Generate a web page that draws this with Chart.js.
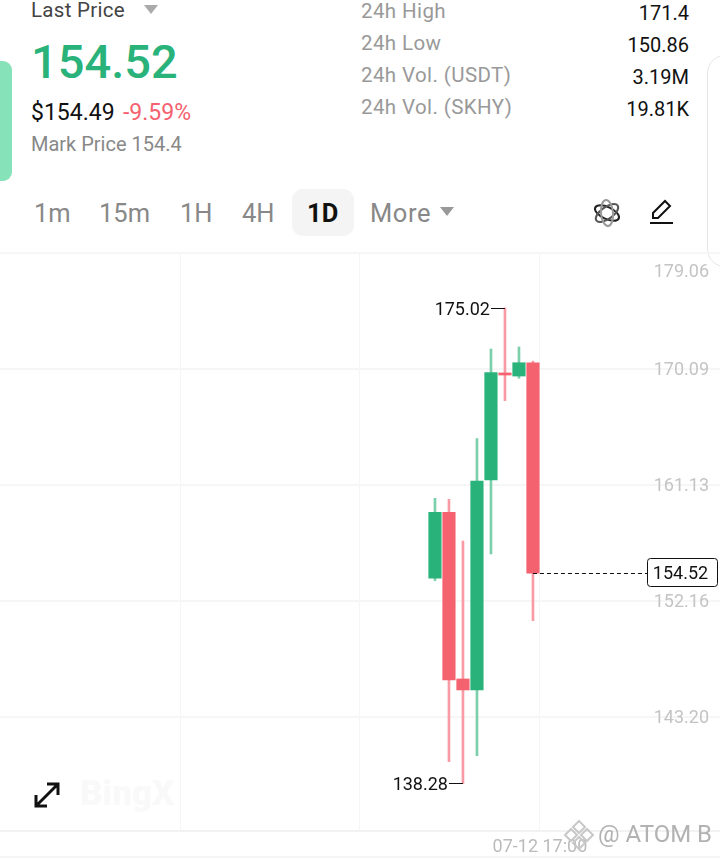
<!DOCTYPE html>
<html>
<head>
<meta charset="utf-8">
<title>SKHY 1D</title>
<script src="https://cdn.jsdelivr.net/npm/chart.js@4"></script>
<style>
  html, body { margin: 0; padding: 0; background: #fff; }
  body { position: relative; width: 720px; height: 859px; overflow: hidden; font-family: Roboto, sans-serif; }
  .t { position: absolute; white-space: nowrap; line-height: 1; }
  .stat { color: #999; font-size: 20.5px; left: 361px; letter-spacing: .4px; }
  .val { color: #111; font-size: 20px; right: 31px; }
  .tab { color: #888; font-size: 25.5px; top: 201px; }
  #chartVelas { position: absolute; left: 0; top: 243px; }
</style>
</head>
<body>

<div style="position:absolute;left:-12px;top:61px;width:24px;height:120px;border-radius:9px;background:#86e2b8"></div>
<div style="position:absolute;left:707px;top:55px;width:40px;height:212px;border:1px solid #e6e6e6;border-radius:18px;box-sizing:border-box"></div>

<div class="t" style="left:31px;top:0;font-size:20.5px;color:#444;letter-spacing:.3px">Last Price</div>
<svg style="position:absolute;left:144px;top:5px" width="14" height="10"><path d="M0 0H14L7 9Z" fill="#aaa"/></svg>
<div class="t" style="left:31px;top:38px;font-size:47px;font-weight:500;color:#2ab27b">154.52</div>
<div class="t" style="left:31px;top:101px;font-size:23px;color:#111">$154.49</div>
<div class="t" style="left:123px;top:101px;font-size:23px;color:#f4616f">-9.59%</div>
<div class="t" style="left:31px;top:134px;font-size:20px;color:#888">Mark Price 154.4</div>

<div class="t stat" style="top:1px">24h High</div>
<div class="t stat" style="top:33px">24h Low</div>
<div class="t stat" style="top:65px">24h Vol. (USDT)</div>
<div class="t stat" style="top:97px">24h Vol. (SKHY)</div>
<div class="t val" style="top:3px">171.4</div>
<div class="t val" style="top:35px">150.86</div>
<div class="t val" style="top:67px">3.19M</div>
<div class="t val" style="top:99px">19.81K</div>

<div style="position:absolute;left:292px;top:189px;width:62px;height:47px;border-radius:11px;background:#f4f4f4"></div>
<div class="t tab" style="left:34px">1m</div>
<div class="t tab" style="left:99px">15m</div>
<div class="t tab" style="left:180px">1H</div>
<div class="t tab" style="left:242px">4H</div>
<div class="t tab" style="left:307px;color:#111;font-weight:700">1D</div>
<div class="t tab" style="left:370px;letter-spacing:.6px">More</div>
<svg style="position:absolute;left:440px;top:207px" width="14" height="10"><path d="M0 0H14L7 9Z" fill="#999"/></svg>

<svg style="position:absolute;left:590px;top:197px" width="34" height="32" fill="none" stroke="#222" stroke-width="2">
  <ellipse cx="17" cy="16" rx="13" ry="6" transform="rotate(25 17 16)"/>
  <ellipse cx="17" cy="16" rx="13" ry="6" transform="rotate(-35 17 16)" stroke="#555"/>
  <ellipse cx="17" cy="16" rx="13" ry="6" transform="rotate(85 17 16)" stroke="#999"/>
</svg>
<svg style="position:absolute;left:648px;top:198px" width="28" height="28" fill="none" stroke="#111" stroke-width="2">
  <path d="M5 20L5 15L17 3L22 8L10 20Z"/><path d="M2 25H25"/>
</svg>

<svg style="position:absolute;left:33px;top:781px;z-index:2" width="28" height="28" fill="none" stroke="#111" stroke-width="3">
  <path d="M4 24L24 4M14 3H25V14M3 14V25H14"/>
</svg>
<div class="t" style="left:80px;top:776px;font-size:35px;font-weight:900;color:#f9f9f9;z-index:2">BingX</div>

<canvas id="chartVelas" width="720" height="616"></canvas>

<div style="position:absolute;left:0;top:856px;width:720px;height:2px;background:#f5f5f5"></div>

<svg style="position:absolute;left:563px;top:819px;z-index:2" width="32" height="32" fill="none" stroke="#c8c8c8" stroke-width="2">
  <path d="M16 2L22 8L16 14L10 8Z"/><path d="M8 10L14 16L8 22L2 16Z"/><path d="M24 10L30 16L24 22L18 16Z"/><path d="M16 18L22 24L16 30L10 24Z"/>
</svg>
<div class="t" style="left:598px;top:822px;font-size:24px;color:#aaa;z-index:2;opacity:.9">@ ATOM B</div>

<script>
/* Velas diarias */
const velasIndice = [0, 1, 2, 3, 4, 5, 6, 7];
const velasApertura = [154.13, 159.23, 146.35, 145.50, 161.73, 170.00, 169.76, 170.79];
const velasCierre = [159.23, 146.27, 145.50, 161.65, 170.02, 169.84, 170.79, 154.52];
const velasMaximo = [160.31, 160.24, 157.01, 164.92, 171.85, 175.02, 172.01, 170.92];
const velasMinimo = [153.95, 139.96, 138.28, 140.42, 156.01, 167.86, 169.59, 150.86];

/* Eje de precios: la rejilla va un poco desplazada respecto a su etiqueta */
const rejillaPrecio = [179.27, 170.30, 161.33, 152.37, 143.40];
const etiquetasPrecio = ["179.06", "170.09", "161.13", "152.16", "143.20"];

/* Rejilla vertical y su etiqueta de fecha */
const rejillaTiempo = [-18.21, -5.36, 7.5];
const etiquetasTiempo = ["", "", "07-12 17:00"];

const precioActual = 154.52;
const precioMasAlto = 175.02;
const precioMasBajo = 138.28;

const colorSube = "#2ab27b";
const colorBaja = "#f4616f";
const colorMechaSube = "#7bcfab";
const colorMechaBaja = "#f99aa4";

const sube = velasCierre.map((c, i) => c >= velasApertura[i]);

// Anotaciones de maximo, minimo y precio actual
const marcasPrecio = {
  id: "marcasPrecio",
  afterDatasetsDraw(chart) {
    const { ctx, scales: { x, y } } = chart;
    ctx.save();
    ctx.font = "18px Roboto";
    ctx.fillStyle = "#111";
    ctx.strokeStyle = "#111";
    ctx.lineWidth = 1;
    ctx.textBaseline = "middle";
    ctx.textAlign = "right";

    const marcar = (indice, valor) => {
      const px = x.getPixelForValue(indice);
      const py = Math.round(y.getPixelForValue(valor)) + 0.5;
      ctx.beginPath();
      ctx.moveTo(px - 14, py);
      ctx.lineTo(px, py);
      ctx.stroke();
      ctx.fillText(valor.toFixed(2), px - 15, py + 2);
    };
    marcar(velasMaximo.indexOf(precioMasAlto), precioMasAlto);
    marcar(velasMinimo.indexOf(precioMasBajo), precioMasBajo);

    const py = Math.round(y.getPixelForValue(precioActual)) + 0.5;
    ctx.setLineDash([4, 3]);
    ctx.beginPath();
    ctx.moveTo(x.getPixelForValue(7), py);
    ctx.lineTo(648, py);
    ctx.stroke();
    ctx.setLineDash([]);

    ctx.fillStyle = "#fff";
    ctx.beginPath();
    ctx.roundRect(647.5, py - 15, 70, 28, 3);
    ctx.fill();
    ctx.stroke();
    ctx.fillStyle = "#111";
    ctx.textAlign = "center";
    ctx.fillText(precioActual.toFixed(2), 680.5, py + 1);
    ctx.restore();
  },
};

const chartVelas = new Chart(document.getElementById("chartVelas").getContext("2d"), {
  type: "bar",
  data: {
    datasets: [
      {
        label: "mecha",
        data: velasIndice.map((i) => ({ x: i, y: [velasMinimo[i], velasMaximo[i]] })),
        backgroundColor: sube.map((s) => (s ? colorMechaSube : colorMechaBaja)),
        barThickness: 2,
        grouped: false,
        order: 2,
      },
      {
        label: "cuerpo",
        data: velasIndice.map((i) => ({ x: i, y: [velasApertura[i], velasCierre[i]] })),
        backgroundColor: sube.map((s) => (s ? colorSube : colorBaja)),
        barThickness: 12.5,
        grouped: false,
        order: 1,
      },
    ],
  },
  options: {
    responsive: false,
    animation: false,
    layout: { autoPadding: false, padding: { top: 10, left: 0, right: 0, bottom: 0 } },
    plugins: { legend: { display: false }, tooltip: { enabled: false } },
    scales: {
      x: {
        type: "linear",
        offset: false,
        min: -31.07,
        max: 20.36,
        afterBuildTicks: (scale) => {
          scale.ticks = rejillaTiempo.map((value) => ({ value }));
        },
        afterFit: (scale) => {
          scale.height = 28;
        },
        grid: { offset: false, color: "#f5f5f5", lineWidth: 1, drawTicks: false },
        border: { color: "#f2f2f2", width: 2 },
        ticks: {
          autoSkip: false,
          maxRotation: 0,
          padding: 6,
          color: "#bbb",
          font: { family: "Roboto", size: 18 },
          callback: (value, index) => etiquetasTiempo[index],
        },
      },
      y: {
        position: "right",
        min: 134.60,
        max: 179.27,
        afterBuildTicks: (scale) => {
          scale.ticks = rejillaPrecio.map((value) => ({ value }));
        },
        afterFit: (scale) => {
          scale.width = 0;
        },
        grid: { color: "#f6f6f6", lineWidth: 2, drawTicks: false },
        border: { display: false },
        ticks: {
          mirror: true,
          padding: -11,
          labelOffset: 1.5,
          autoSkip: false,
          color: "#c4c4c4",
          font: { family: "Roboto", size: 18, lineHeight: 1 },
          // la primera etiqueta queda por debajo de su linea
          callback: (value, index) => (index === 0 ? ["", "", etiquetasPrecio[index]] : etiquetasPrecio[index]),
        },
      },
    },
  },
  plugins: [marcasPrecio],
});
</script>
</body>
</html>
